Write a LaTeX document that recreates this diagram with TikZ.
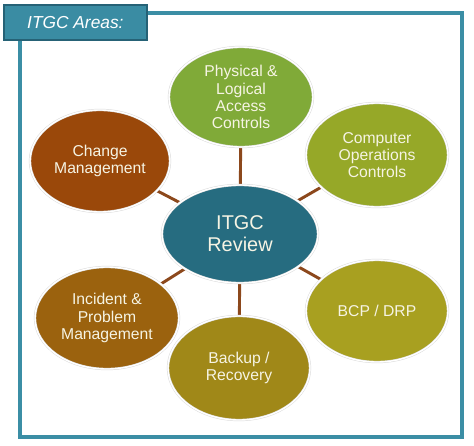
\documentclass[tikz,border=0pt]{standalone}
\usepackage{fontspec}
\setmainfont{Liberation Sans}
\usetikzlibrary{shapes.geometric, positioning, backgrounds}
\definecolor{AreaFrame}{RGB}{59, 142, 165}
\definecolor{TitleFill}{RGB}{58, 140, 163}
\definecolor{TitleEdge}{RGB}{38, 98, 118}
\definecolor{ReviewTeal}{RGB}{38, 108, 128}
\definecolor{AccessGreen}{RGB}{128, 170, 56}
\definecolor{OpsOlive}{RGB}{150, 168, 40}
\definecolor{ChangeBrown}{RGB}{154, 72, 10}
\definecolor{BcpYellow}{RGB}{168, 160, 32}
\definecolor{BackupGold}{RGB}{160, 136, 24}
\definecolor{IncidentAmber}{RGB}{155, 98, 14}
\definecolor{SpokeBrown}{RGB}{140, 72, 28}
\definecolor{BubbleText}{RGB}{246, 244, 228}

\begin{document}
\begin{tikzpicture}[x=0.03cm, y=-0.03cm,
    bubble/.style={ellipse, draw=black!15, double=white, double distance=1.2pt, inner sep=0pt, align=center, text=BubbleText, font=\fontsize{13.4}{14.6}\selectfont},
    spoke/.style={line width=2.5pt, SpokeBrown}]
    \useasboundingbox (0,0) rectangle (474,445);
    \draw[AreaFrame, line width=2.6pt] (20,13) rectangle (462,437);
    \node[draw=TitleEdge, fill=TitleFill, line width=1.5pt, anchor=north west, minimum width=4.29cm, minimum height=1.05cm, text=white, font=\itshape\fontsize{14.8}{14.8}\selectfont] (title) at (3,4) {ITGC Areas:};

    \node[bubble, fill=ReviewTeal, minimum width=4.68cm, minimum height=2.94cm, font=\fontsize{17}{19}\selectfont] (review) at (240,234) {ITGC\\Review};
    \node[bubble, fill=AccessGreen, minimum width=4.32cm, minimum height=3.0cm] (access) at (241,97) {Physical \&\\Logical\\Access\\Controls};
    \node[bubble, fill=OpsOlive, minimum width=4.26cm, minimum height=3.12cm] (ops) at (377,155) {Computer\\Operations\\Controls};
    \node[bubble, fill=ChangeBrown, minimum width=4.2cm, minimum height=3.06cm] (change) at (100,161) {Change\\Management};
    \node[bubble, fill=BcpYellow, minimum width=4.26cm, minimum height=3.06cm] (bcp) at (377,311) {BCP / DRP};
    \node[bubble, fill=BackupGold, minimum width=4.26cm, minimum height=3.12cm] (backup) at (239,368) {Backup /\\Recovery};
    \node[bubble, fill=IncidentAmber, minimum width=4.32cm, minimum height=3.06cm] (incident) at (107,318) {Incident \&\\Problem\\Management};

    \begin{scope}[on background layer]
    \draw[spoke] (review) -- (access);
    \draw[spoke] (review) -- (ops);
    \draw[spoke] (review) -- (bcp);
    \draw[spoke] (review) -- (backup);
    \draw[spoke] (review) -- (incident);
    \draw[spoke] (review) -- (change);
    \end{scope}
  \end{tikzpicture}
\end{document}
